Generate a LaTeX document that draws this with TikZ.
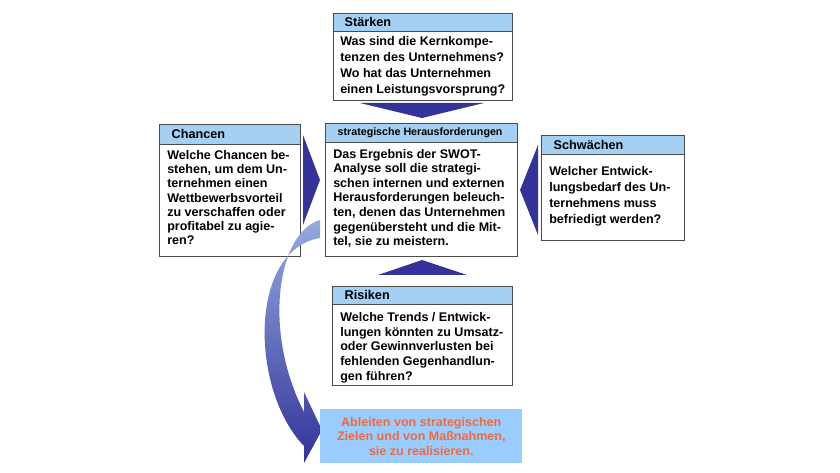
\documentclass[tikz,border=0pt]{standalone}
\usepackage{fontspec}
\setmainfont{Liberation Sans}
\begin{document}
\begin{tikzpicture}[x=0.75pt,y=-0.75pt,
  htxt/.style={anchor=west,font=\bfseries\fontsize{9.5}{11}\selectfont},
  btxt/.style={anchor=north west,font=\bfseries\fontsize{9.4}{#1}\selectfont,align=left,inner sep=0pt}]
\definecolor{hblue}{HTML}{A4D0F4}
\definecolor{dblue}{HTML}{333399}
\definecolor{lblue}{HTML}{99CCFF}
\definecolor{ored}{HTML}{F26A3C}
\useasboundingbox (0,0) rectangle (840,473);
% Stärken
\draw[draw=black!70,fill=white] (333,13) rectangle (512,100);
\draw[draw=black!70,fill=hblue] (333,13) rectangle (512,31);
\node[htxt] (sh) at (340,22) {Stärken};
\node[btxt=12] (sb) at (340,36) {Was sind die Kernkompe-\\tenzen des Unternehmens?\\Wo hat das Unternehmen\\einen Leistungsvorsprung?};
% Center
\draw[draw=black!70,fill=white] (325,123) rectangle (517,256);
\draw[draw=black!70,fill=hblue] (325,123) rectangle (517,142);
\node[anchor=west,font=\bfseries\fontsize{8}{10}\selectfont] (ch) at (333,132.5) {strategische Herausforderungen};
\node[btxt=10.9] (cb) at (333,149) {Das Ergebnis der SWOT-\\Analyse soll die strategi-\\schen internen und externen\\Herausforderungen beleuch-\\ten, denen das Unternehmen\\gegenübersteht und die Mit-\\tel, sie zu meistern.};
% Chancen
\draw[draw=black!70,fill=white] (159,124) rectangle (300,256);
\draw[draw=black!70,fill=hblue] (159,124) rectangle (300,144);
\node[htxt] (kh) at (167,134) {Chancen};
\node[btxt=10.7] (kb) at (167,150) {Welche Chancen be-\\stehen, um dem Un-\\ternehmen einen\\Wettbewerbsvorteil\\zu verschaffen oder\\profitabel zu agie-\\ren?};
% Schwächen
\draw[draw=black!70,fill=white] (541,135) rectangle (684,240);
\draw[draw=black!70,fill=hblue] (541,135) rectangle (684,154);
\node[htxt] (wh) at (549,144.5) {Schwächen};
\node[btxt=12] (wb) at (549,166) {Welcher Entwick-\\lungsbedarf des Un-\\ternehmens muss\\befriedigt werden?};
% Risiken
\draw[draw=black!70,fill=white] (332,286) rectangle (512,385);
\draw[draw=black!70,fill=hblue] (332,286) rectangle (512,304);
\node[htxt] (rh) at (340,295) {Risiken};
\node[btxt=11] (rb) at (340,312) {Welche Trends / Entwick-\\lungen könnten zu Umsatz-\\oder Gewinnverlusten bei\\fehlenden Gegenhandlun-\\gen führen?};
% triangles
\fill[dblue] (360,103) -- (484,103) -- (422,118) -- cycle;
\fill[dblue] (303,135) -- (320,180) -- (303,225) -- cycle;
\fill[dblue] (538,145) -- (520,190) -- (538,235) -- cycle;
\fill[dblue] (378,275) -- (467,275) -- (422,260) -- cycle;
% curved arrow
\shade[top color=lblue!60!dblue!75,bottom color=dblue] (320,220) .. controls (278,232) and (262,330) .. (304,412) -- (304,392) -- (322,430) -- (304,463) -- (304,446) .. controls (250,390) and (248,250) .. (320,238) -- cycle;
% result
\node[fill=lblue,anchor=north west,minimum width=151.5pt,minimum height=40.5pt,inner sep=0pt] (res) at (320,409) {};
\node[font=\bfseries\fontsize{9.4}{11}\selectfont,text=ored,align=center] (rt) at (res.center) {Ableiten von strategischen\\Zielen und von Maßnahmen,\\sie zu realisieren.};
\end{tikzpicture}
\end{document}
